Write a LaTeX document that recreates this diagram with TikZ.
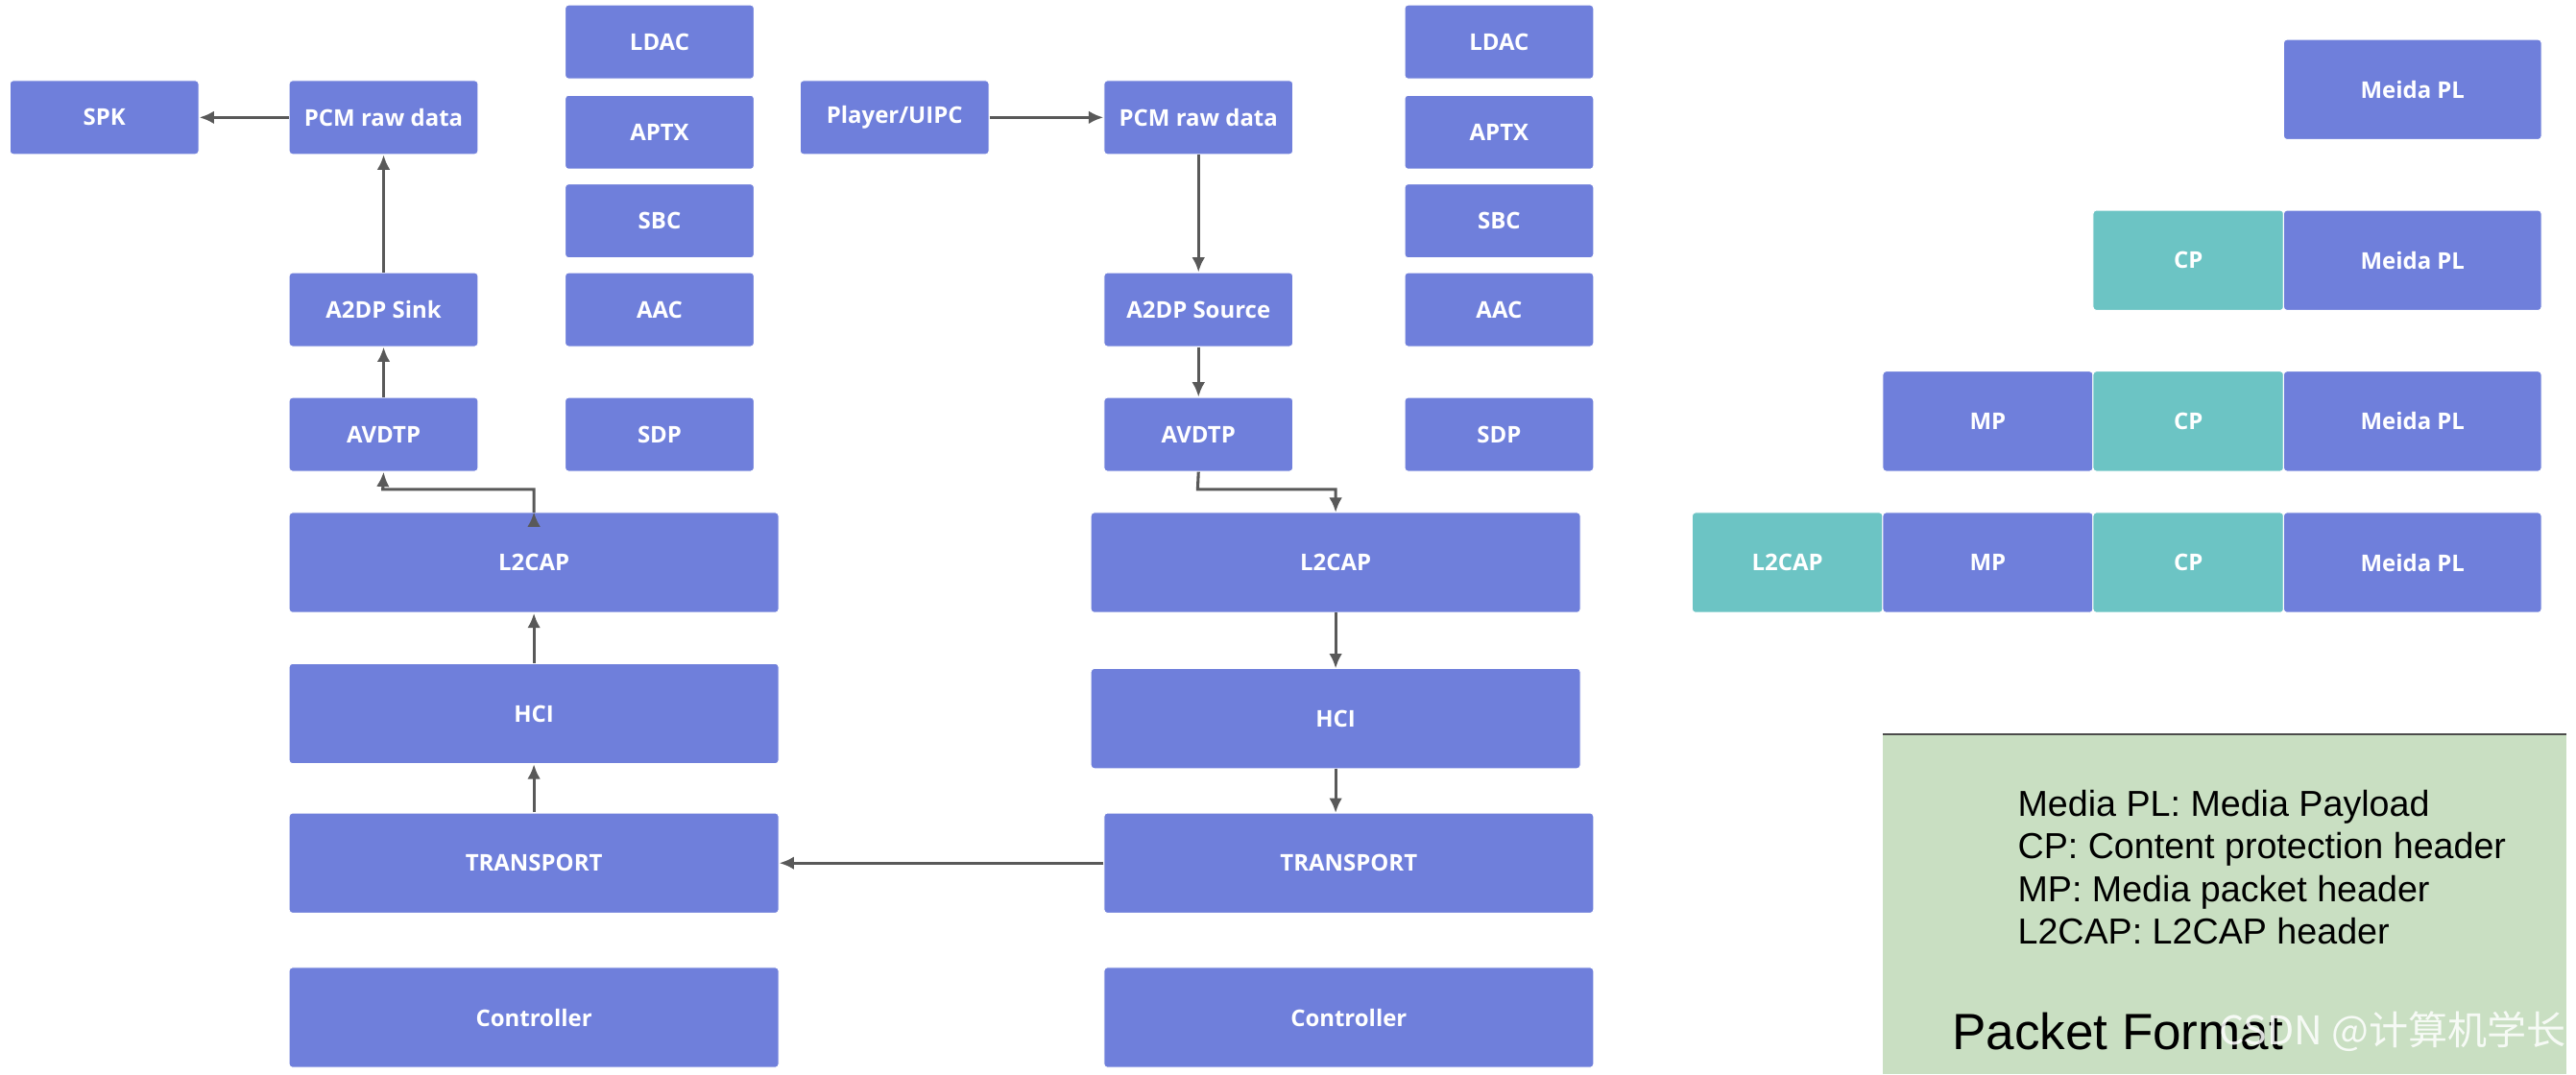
\documentclass[tikz,border=0pt]{standalone}
\usepackage{fontspec}
\setmainfont{Open Sans}
\newfontfamily\lib{Liberation Sans}
\newfontfamily\cjk{Noto Sans CJK SC}
\usetikzlibrary{arrows.meta}
\definecolor{bl}{HTML}{6F7FDB}
\definecolor{tl}{HTML}{6CC4C4}
\definecolor{gn}{HTML}{C9DFC2}
\begin{document}
\begin{tikzpicture}[x=1pt,y=-1pt,
 bx/.style={fill=bl,draw=white,line width=0.6pt,rounded corners=2pt,text=white,font=\fontsize{14}{16}\selectfont\bfseries},
 tx/.style={bx,fill=tl},
 ar/.style={draw=black!65,line width=1.8pt,-{Latex[length=9pt,width=8pt]}}]
\useasboundingbox (0,0) rectangle (1568,654);
\def\B#1#2#3#4#5#6{\node[bx] (#1) at ({(#2+#4)/2},{(#3+#5)/2}) [minimum width={#4-#2},minimum height={#5-#3}] {#6};}
\def\T#1#2#3#4#5#6{\node[tx] (#1) at ({(#2+#4)/2},{(#3+#5)/2}) [minimum width={#4-#2},minimum height={#5-#3}] {#6};}
\B{spk}{6}{49}{121}{94}{SPK}
\B{pcml}{176}{49}{291}{94}{PCM raw data}
\B{sink}{176}{166}{291}{211}{A2DP Sink}
\B{avl}{176}{242}{291}{287}{AVDTP}
\B{l2l}{176}{312}{474}{373}{L2CAP}
\B{hcil}{176}{404}{474}{465}{HCI}
\B{trl}{176}{495}{474}{556}{TRANSPORT}
\B{ctl}{176}{589}{474}{650}{Controller}
\B{ldl}{344}{3}{459}{48}{LDAC}
\B{apl}{344}{58}{459}{103}{APTX}
\B{sbl}{344}{112}{459}{157}{SBC}
\B{aal}{344}{166}{459}{211}{AAC}
\B{sdl}{344}{242}{459}{287}{SDP}
\B{ply}{487}{49}{602}{94}{Player/UIPC}
\B{pcmr}{672}{49}{787}{94}{PCM raw data}
\B{src}{672}{166}{787}{211}{A2DP Source}
\B{avr}{672}{242}{787}{287}{AVDTP}
\B{l2r}{664}{312}{962}{373}{L2CAP}
\B{hcir}{664}{407}{962}{468}{HCI}
\B{trr}{672}{495}{970}{556}{TRANSPORT}
\B{ctr}{672}{589}{970}{650}{Controller}
\B{ldr}{855}{3}{970}{48}{LDAC}
\B{apr}{855}{58}{970}{103}{APTX}
\B{sbr}{855}{112}{970}{157}{SBC}
\B{aar}{855}{166}{970}{211}{AAC}
\B{sdr}{855}{242}{970}{287}{SDP}
\B{m1}{1390}{24}{1547}{85}{Meida PL}
\T{c2}{1274}{128}{1390}{189}{CP}
\B{m2}{1390}{128}{1547}{189}{Meida PL}
\B{p3}{1146}{226}{1274}{287}{MP}
\T{c3}{1274}{226}{1390}{287}{CP}
\B{m3}{1390}{226}{1547}{287}{Meida PL}
\T{l4}{1030}{312}{1146}{373}{L2CAP}
\B{p4}{1146}{312}{1274}{373}{MP}
\T{c4}{1274}{312}{1390}{373}{CP}
\B{m4}{1390}{312}{1547}{373}{Meida PL}
% arrows
\draw[ar] (pcml) -- (spk);
\draw[ar] (sink) -- (pcml);
\draw[ar] (avl) -- (sink);
\draw[ar] (l2l.north) ++(0,0) coordinate (a1);
\draw[ar] (325,312) -- (325,298) -- (233,298) -- (avl.south);
\draw[ar] (hcil.north) -- (l2l.south);
\draw[ar] (trl.north) -- (hcil.south);
\draw[ar] (trr) -- (trl);
\draw[ar] (ply) -- (pcmr);
\draw[ar] (pcmr) -- (src);
\draw[ar] (src) -- (avr);
\draw[ar] (avr.south) -- (729,298) -- (813,298) -- (813,312);
\draw[ar] (813,373) -- (813,407);
\draw[ar] (813,468) -- (813,495);
% legend
\fill[gn] (1146,447) rectangle (1562,654);
\draw[black!70,line width=1.5pt] (1146,447) -- (1562,447);
\node[anchor=west,font=\lib\fontsize{22}{26}\selectfont,align=left,inner sep=0] at (1228,528) {Media PL: Media Payload\\CP: Content protection header\\MP: Media packet header\\L2CAP: L2CAP header};
\node[anchor=west,font=\lib\fontsize{31}{34}\selectfont,inner sep=0] at (1188,628) {Packet Format};
\node[anchor=east,font=\cjk\fontsize{24}{26}\selectfont,text=white,opacity=0.85,inner sep=0] at (1562,628) {CSDN @计算机学长};
\end{tikzpicture}
\end{document}
